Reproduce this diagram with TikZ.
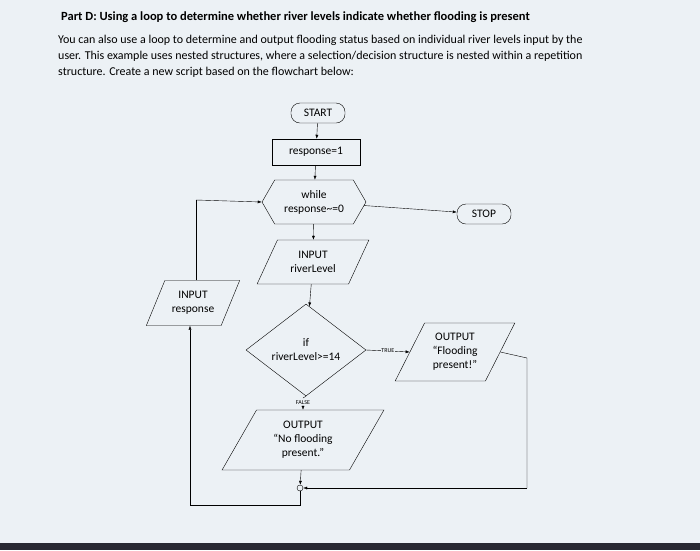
\documentclass[tikz,border=0pt]{standalone}
\usepackage{fontspec}
\setmainfont{Carlito}
\usetikzlibrary{shapes.geometric,shapes.symbols,arrows.meta}
\definecolor{bgc}{RGB}{236,241,245}
\definecolor{barc}{RGB}{40,40,50}
\begin{document}
\begin{tikzpicture}[x=1pt,y=-1pt,
  every node/.style={font=\fontsize{11.5}{14}\selectfont, align=center, inner sep=1pt},
  term/.style={draw, rounded corners=9pt, minimum width=54pt, minimum height=20pt},
  procbox/.style={draw, minimum width=88pt, minimum height=26pt},
  hexbox/.style={draw, signal, signal to=west and east, signal pointer angle=120, minimum width=104pt, minimum height=44pt},
  iobox/.style={draw, trapezium, trapezium left angle=60, trapezium right angle=120, trapezium stretches=true},
  decbox/.style={draw, diamond, aspect=1.35, minimum width=120pt, minimum height=92pt, inner sep=0pt},
  arr/.style={-{Latex[length=4pt,width=3pt]}, thin},
  ln/.style={thin}]
\useasboundingbox[fill=bgc] (0,0) rectangle (700,550);
\fill[barc] (0,543) rectangle (700,550);
\node[anchor=west, font=\bfseries\fontsize{12.5}{15}\selectfont] (title) at (60,17) {Part D: Using a loop to determine whether river levels indicate whether flooding is present};
\node[anchor=north west, align=left, font=\fontsize{12}{16}\selectfont] (para) at (57,34) {You can also use a loop to determine and output flooding status based on individual river levels input by the\\user. This example uses nested structures, where a selection/decision structure is nested within a repetition\\structure. Create a new script based on the flowchart below:};
\node[term] (start) at (318,113) {START};
\node[procbox] (resp) at (316,152) {response=1};
\node[hexbox] (while) at (314,202) {while\\response\textasciitilde=0};
\node[term] (stop) at (484,214) {STOP};
\node[iobox, minimum width=112pt, minimum height=44pt] (inlev) at (313,262) {INPUT\\riverLevel};
\node[iobox, minimum width=94pt, minimum height=45pt] (inresp) at (193,303) {INPUT\\response};
\node[decbox] (if) at (306,350) {if\\riverLevel>=14};
\node[iobox, minimum width=120pt, minimum height=58pt] (outf) at (455,352) {OUTPUT\\“Flooding\\present!”};
\node[iobox, minimum width=162pt, minimum height=60pt] (outn) at (303,440) {OUTPUT\\“No flooding\\present.”};
\node[draw, circle, minimum size=6pt, inner sep=0pt] (join) at (300,488) {};
\coordinate (c1) at (196,200);
\coordinate (c2) at (527,358);
\coordinate (c3) at (527,488);
\coordinate (c4) at (300,505);
\coordinate (c5) at (190,505);
\draw[arr] (start) -- (resp);
\draw[arr] (resp) -- (while);
\draw[arr] (while) -- (stop);
\draw[arr] (while) -- (inlev);
\draw[arr] (inlev) -- (if);
\draw[arr] (if.east) -- node[fill=bgc, font=\fontsize{6}{7}\selectfont, inner sep=0.5pt] {TRUE} (outf.west);
\draw[ln] (if.south) -- (303,398) node[below=1pt, font=\fontsize{6}{7}\selectfont] (fl) {FALSE};
\draw[arr] (fl) -- (outn);
\draw[arr] (outn) -- (join);
\draw[ln] (outf.east) -- (c2) -- (c3);
\draw[arr] (c3) -- (join.east);
\draw[ln] (join) -- (c4) -- (c5);
\draw[arr] (c5) -- (inresp.south -| c5);
\draw[ln] (inresp.north -| c1) -- (c1);
\draw[arr] (c1) -- (while.west);
\end{tikzpicture}
\end{document}
